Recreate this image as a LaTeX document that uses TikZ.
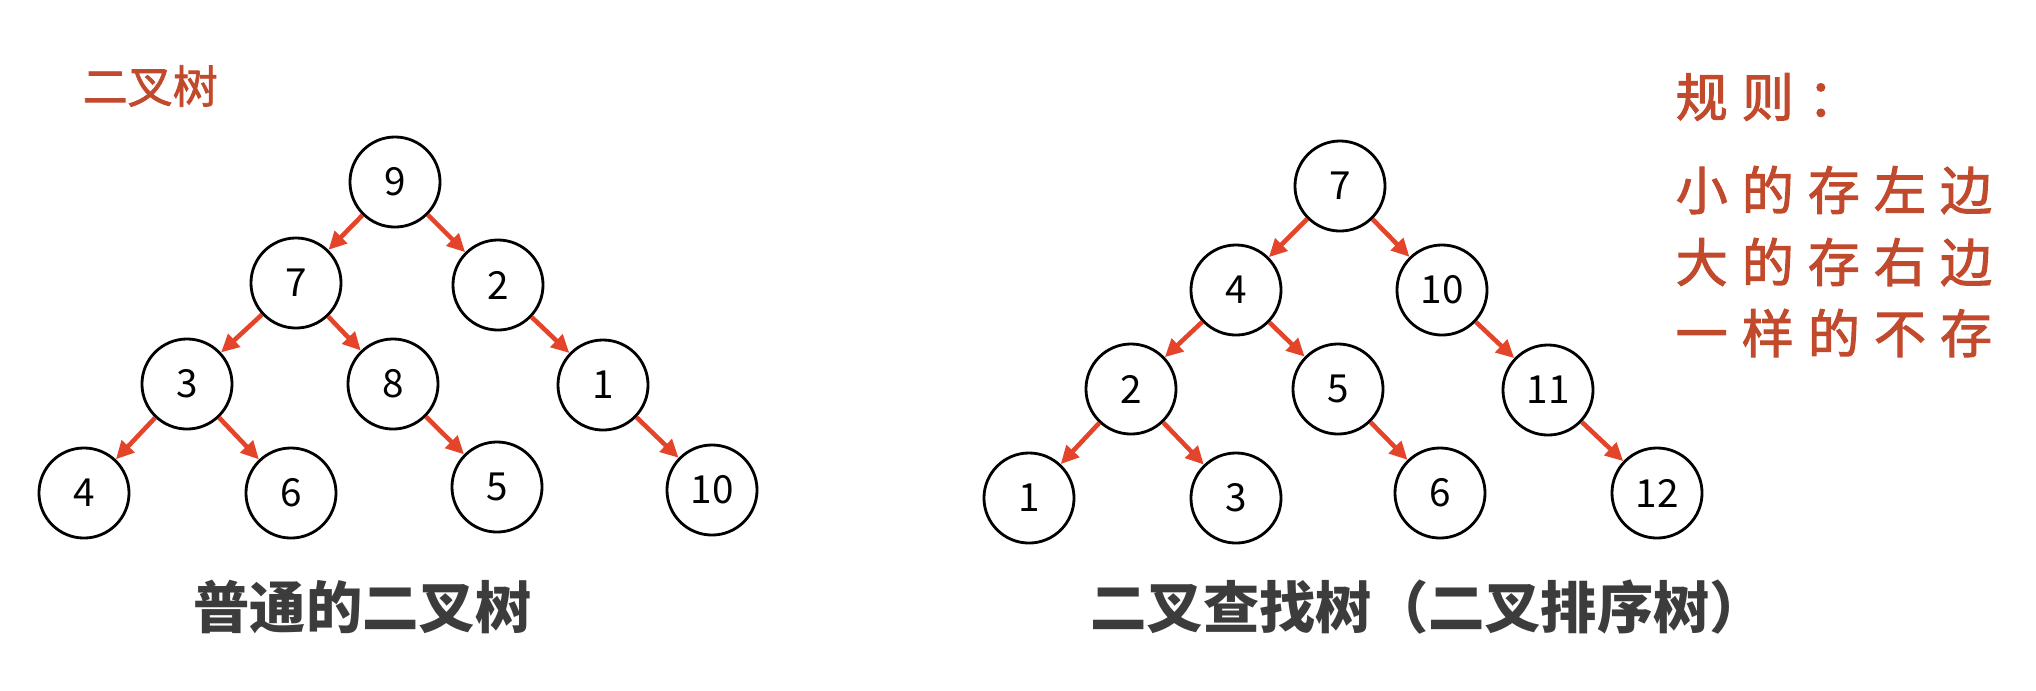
\documentclass[tikz,border=0pt]{standalone}
\usepackage{fontspec}
\setmainfont{Noto Sans CJK SC}
\newfontfamily\rulefont{Noto Sans CJK SC}[LetterSpace=27, FakeBold=2]
\newfontfamily\headfont{Noto Sans CJK SC}[FakeBold=1.6]
\usetikzlibrary{arrows.meta}
\definecolor{edgered}{HTML}{E4442A}
\definecolor{titlered}{HTML}{C24A2C}
\definecolor{captiongray}{HTML}{3C3C3C}

\begin{document}
\begin{tikzpicture}[
    x=0.01cm, y=-0.01cm,
    treenode/.style={draw, circle, line width=0.8pt, minimum size=0.9cm, inner sep=0pt, font=\fontsize{11}{13}\selectfont},
    arrow/.style={-{Triangle[length=1.8mm, width=1.7mm]}, line width=1.3pt, edgered},
    caption/.style={anchor=west, inner sep=0pt, text=captiongray, font=\fontsize{16}{19}\selectfont\bfseries},
    rulestext/.style={anchor=west, inner sep=0pt, text=titlered, font=\rulefont\fontsize{14.8}{18}\selectfont}
]
    \useasboundingbox (0,0) rectangle (2036,690);

    % ordinary binary tree
    \node[anchor=west, inner sep=0pt, text=titlered, font=\headfont\fontsize{12.8}{15}\selectfont] (title) at (82,86) {二叉树};
    \node[treenode] (l9) at (395,182) {9};
    \node[treenode] (l7) at (296,283) {7};
    \node[treenode] (l2) at (498,285) {2};
    \node[treenode] (l3) at (187,384) {3};
    \node[treenode] (l8) at (393,384) {8};
    \node[treenode] (l1) at (603,385) {1};
    \node[treenode] (l4) at (84,493) {4};
    \node[treenode] (l6) at (291,493) {6};
    \node[treenode] (l5) at (497,487) {5};
    \node[treenode] (l10) at (712,490) {10};
    \node[caption] (plain) at (193,607) {普通的二叉树};

    \draw[arrow] (l9) -- (l7);
    \draw[arrow] (l9) -- (l2);
    \draw[arrow] (l7) -- (l3);
    \draw[arrow] (l7) -- (l8);
    \draw[arrow] (l2) -- (l1);
    \draw[arrow] (l3) -- (l4);
    \draw[arrow] (l3) -- (l6);
    \draw[arrow] (l8) -- (l5);
    \draw[arrow] (l1) -- (l10);

    % binary search tree
    \node[treenode] (r7) at (1340,186) {7};
    \node[treenode] (r4) at (1236,290) {4};
    \node[treenode] (r10) at (1442,290) {10};
    \node[treenode] (r2) at (1131,389) {2};
    \node[treenode] (r5) at (1338,389) {5};
    \node[treenode] (r11) at (1548,390) {11};
    \node[treenode] (r1) at (1029,498) {1};
    \node[treenode] (r3) at (1236,498) {3};
    \node[treenode] (r6) at (1440,493) {6};
    \node[treenode] (r12) at (1657,493) {12};
    \node[caption] (search) at (1090,607) {二叉查找树（二叉排序树）};

    \draw[arrow] (r7) -- (r4);
    \draw[arrow] (r7) -- (r10);
    \draw[arrow] (r4) -- (r2);
    \draw[arrow] (r4) -- (r5);
    \draw[arrow] (r10) -- (r11);
    \draw[arrow] (r2) -- (r1);
    \draw[arrow] (r2) -- (r3);
    \draw[arrow] (r5) -- (r6);
    \draw[arrow] (r11) -- (r12);

    % rules
    \node[rulestext] (rulehead) at (1675,97) {规则：};
    \node[rulestext] (rulesmall) at (1675,190) {小的存左边};
    \node[rulestext] (rulebig) at (1675,262) {大的存右边};
    \node[rulestext] (rulesame) at (1675,333) {一样的不存};
\end{tikzpicture}
\end{document}
